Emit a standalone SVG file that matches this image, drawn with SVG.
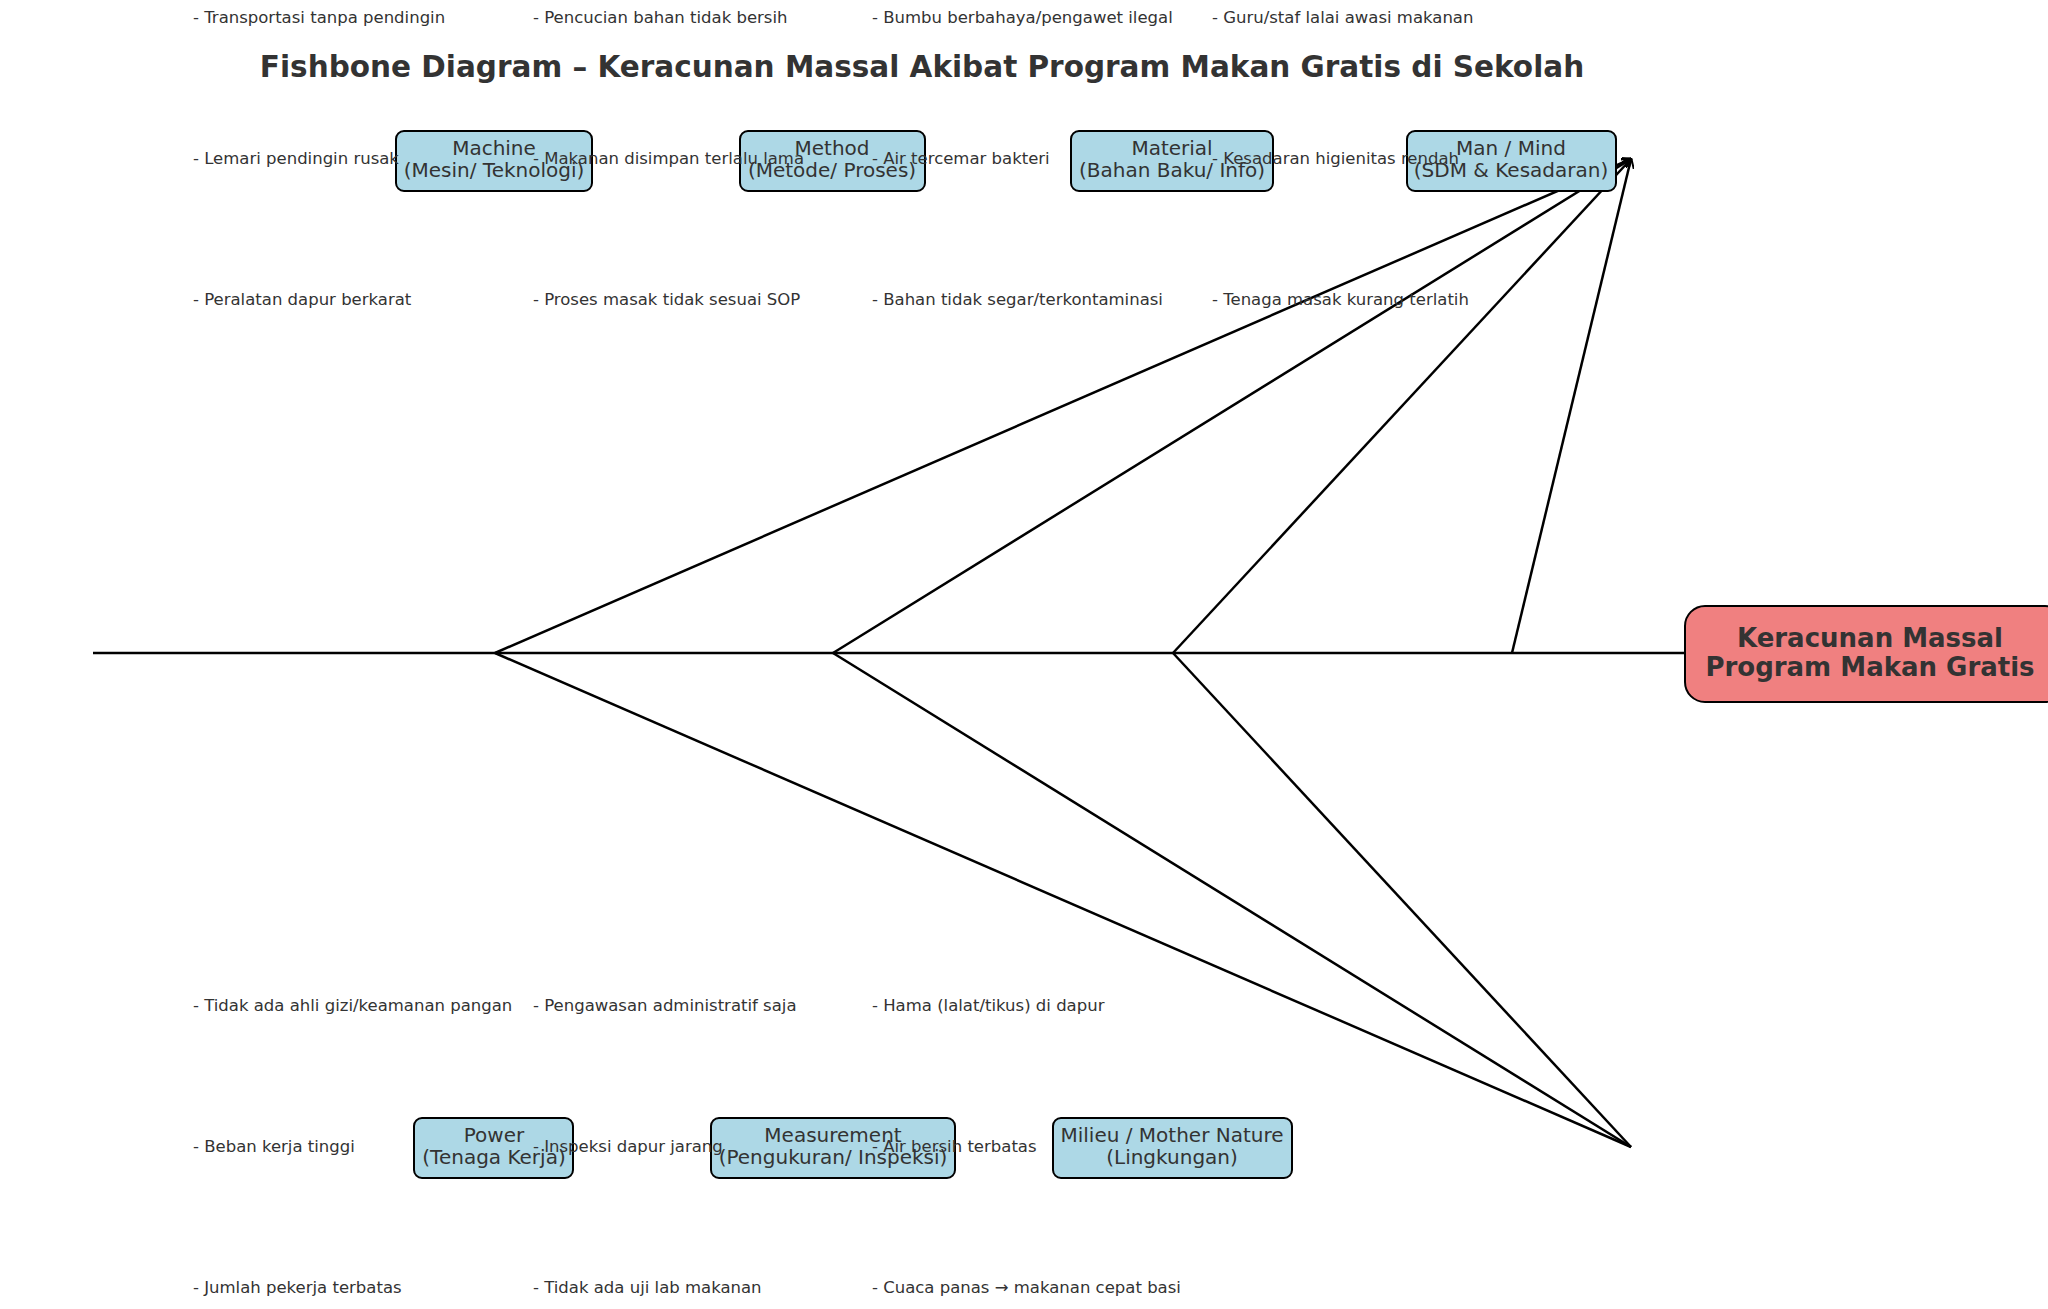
<svg xmlns="http://www.w3.org/2000/svg" width="2048" height="1309" viewBox="0 0 2048 1309">
<style>
text{font-family:"DejaVu Sans","Liberation Sans",sans-serif;fill:#333}
.c{font-size:16.5px;dominant-baseline:middle}
.cat rect{fill:#add8e6;stroke:#000;stroke-width:2}
.cat text{font-size:20px;text-anchor:middle}
.b{stroke:#000;stroke-width:2.5;fill:none}
</style>
<defs><marker id="ah" viewBox="0 0 10 10" refX="9" refY="5" markerWidth="10" markerHeight="10" markerUnits="userSpaceOnUse" orient="auto"><path d="M0,0L10,5L0,10" fill="none" stroke="#000" stroke-width="2"/></marker></defs>
<rect width="2048" height="1309" fill="#fff"/>
<text x="922" y="68" font-size="29.5" font-weight="bold" text-anchor="middle" dominant-baseline="middle">Fishbone Diagram – Keracunan Massal Akibat Program Makan Gratis di Sekolah</text>
<g id="connectors">
<line class="b" x1="93" y1="653" x2="1685" y2="653" stroke-width="3.5"/>
<line class="b" x1="495" y1="653" x2="1631" y2="159" marker-end="url(#ah)"/>
<line class="b" x1="833" y1="653" x2="1631" y2="159" marker-end="url(#ah)"/>
<line class="b" x1="1173" y1="653" x2="1631" y2="159" marker-end="url(#ah)"/>
<line class="b" x1="1512" y1="653" x2="1631" y2="159" marker-end="url(#ah)"/>
<line class="b" x1="495" y1="653" x2="1631" y2="1147"/>
<line class="b" x1="833" y1="653" x2="1631" y2="1147"/>
<line class="b" x1="1173" y1="653" x2="1631" y2="1147"/>
</g>
<g id="machine" class="cat"><rect x="396" y="131" width="196" height="60" rx="8"/><text x="494" y="155">Machine</text><text x="494" y="177">(Mesin/ Teknologi)</text></g>
<g id="method" class="cat"><rect x="740" y="131" width="185" height="60" rx="8"/><text x="832" y="155">Method</text><text x="832" y="177">(Metode/ Proses)</text></g>
<g id="material" class="cat"><rect x="1071" y="131" width="202" height="60" rx="8"/><text x="1172" y="155">Material</text><text x="1172" y="177">(Bahan Baku/ Info)</text></g>
<g id="man" class="cat"><rect x="1407" y="131" width="209" height="60" rx="8"/><text x="1511" y="155">Man / Mind</text><text x="1511" y="177">(SDM &amp; Kesadaran)</text></g>
<g id="power" class="cat"><rect x="414" y="1118" width="159" height="60" rx="8"/><text x="494" y="1142">Power</text><text x="494" y="1164">(Tenaga Kerja)</text></g>
<g id="measurement" class="cat"><rect x="711" y="1118" width="244" height="60" rx="8"/><text x="833" y="1142">Measurement</text><text x="833" y="1164">(Pengukuran/ Inspeksi)</text></g>
<g id="milieu" class="cat"><rect x="1053" y="1118" width="239" height="60" rx="8"/><text x="1172" y="1142">Milieu / Mother Nature</text><text x="1172" y="1164">(Lingkungan)</text></g>
<g id="effect"><rect x="1685" y="606" width="380" height="96" rx="20" fill="#f08080" stroke="#000" stroke-width="2"/><text x="1870" y="639" font-size="26" font-weight="bold" text-anchor="middle" dominant-baseline="middle">Keracunan Massal</text><text x="1870" y="668" font-size="26" font-weight="bold" text-anchor="middle" dominant-baseline="middle">Program Makan Gratis</text></g>
<g id="causes">
<text class="c" x="193" y="18">- Transportasi tanpa pendingin</text>
<text class="c" x="193" y="159">- Lemari pendingin rusak</text>
<text class="c" x="193" y="300">- Peralatan dapur berkarat</text>
<text class="c" x="533" y="18">- Pencucian bahan tidak bersih</text>
<text class="c" x="533" y="159">- Makanan disimpan terlalu lama</text>
<text class="c" x="533" y="300">- Proses masak tidak sesuai SOP</text>
<text class="c" x="872" y="18">- Bumbu berbahaya/pengawet ilegal</text>
<text class="c" x="872" y="159">- Air tercemar bakteri</text>
<text class="c" x="872" y="300">- Bahan tidak segar/terkontaminasi</text>
<text class="c" x="1212" y="18">- Guru/staf lalai awasi makanan</text>
<text class="c" x="1212" y="159">- Kesadaran higienitas rendah</text>
<text class="c" x="1212" y="300">- Tenaga masak kurang terlatih</text>
<text class="c" x="193" y="1006">- Tidak ada ahli gizi/keamanan pangan</text>
<text class="c" x="193" y="1147">- Beban kerja tinggi</text>
<text class="c" x="193" y="1288">- Jumlah pekerja terbatas</text>
<text class="c" x="533" y="1006">- Pengawasan administratif saja</text>
<text class="c" x="533" y="1147">- Inspeksi dapur jarang</text>
<text class="c" x="533" y="1288">- Tidak ada uji lab makanan</text>
<text class="c" x="872" y="1006">- Hama (lalat/tikus) di dapur</text>
<text class="c" x="872" y="1147">- Air bersih terbatas</text>
<text class="c" x="872" y="1288">- Cuaca panas → makanan cepat basi</text>
</g>
</svg>
